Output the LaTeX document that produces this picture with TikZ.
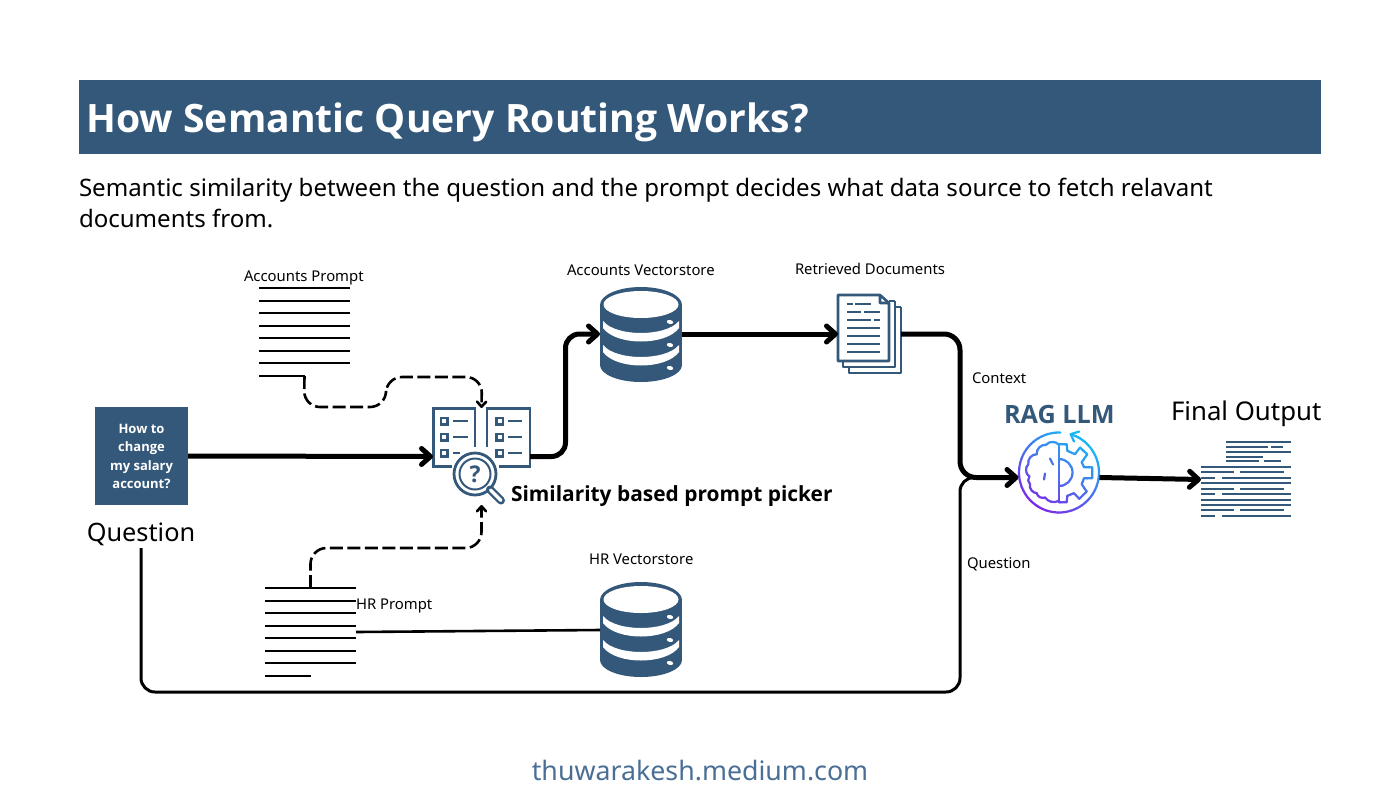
\documentclass[tikz,border=0pt]{standalone}
\usepackage{fontspec}
\setmainfont{Noto Sans}
\newfontfamily\opensans{Open Sans}
\usetikzlibrary{arrows.meta,calc}
\definecolor{navy}{HTML}{34587A}
\definecolor{webblue}{HTML}{4A6F94}
\definecolor{gradA}{HTML}{14BDF7}
\definecolor{gradB}{HTML}{7D28E6}
\newcommand{\fs}[1]{\fontsize{#1}{#1}\selectfont}
\tikzset{
  x=1pt,y=-1pt,
  lbl/.style={inner sep=0pt,outer sep=0pt,anchor=base west,font=\fs{14.85}},
  mainarrow/.style={line width=5pt,-{Straight Barb[length=9pt,width=16pt,line cap=round,round]}},
  dasharrow/.style={line width=2.6pt,dash pattern=on 13pt off 4.5pt,-{Straight Barb[length=5pt,width=9pt,round]}},
  promptline/.style={line width=2pt,black},
  iconline/.style={navy,line width=2.6pt},
  outline/.style={navy,line width=1.6pt},
}
\newcommand{\dbstack}[2]{%
  \begin{scope}[shift={(#1,#2)}]
    \fill[navy] (0,0) ellipse[x radius=41,y radius=18];
    \fill[navy] (-41,0) rectangle (41,60);
    \fill[navy] (0,60) ellipse[x radius=41,y radius=17];
    \fill[white] (0,-0.5) ellipse[x radius=37.5,y radius=13.5];
    \foreach \d in {0,24}{
      \fill[white] (-38,16+\d) .. controls (-25,32+\d) and (25,32+\d) .. (38,16+\d)
        -- (38,23+\d) .. controls (25,41+\d) and (-25,41+\d) .. (-38,23+\d) -- cycle;
    }
    \foreach \d in {17,40,63}{
      \fill[white,rotate around={-12:(29,\d)}] (29,\d) ellipse[x radius=3.2,y radius=2];
    }
  \end{scope}}
\newcommand{\promptlines}[4]{% x0, x1, y0, short x
  \foreach \i in {0,...,6}{\draw[promptline] (#1,#3+12.57*\i) -- (#2,#3+12.57*\i);}
  \draw[promptline] (#1,#3+88) -- (#4,#3+88);}
\newcommand{\llmshapes}{%
  \draw (88:40) arc[start angle=88,end angle=433,radius=40];
  \draw[line join=round] (20.3,41) -- (11.7,38.3) -- (15,31);
  \draw (0,28.3) -- (0,-29.7);
  \draw[line join=round] (0,28.3) -- (7.7,28.3) -- (8.3,21.7) -- (16,18.3) -- (21,25) -- (28.3,18.3) -- (22.7,10.3) -- (25,5.3) -- (33.3,5.3) -- (33.3,-5.7) -- (25,-5.7) -- (22.7,-11.7) -- (27.7,-19) -- (20.3,-26.3) -- (15,-20.7) -- (8.3,-23.3) -- (7.7,-29.7) -- (0,-29.7);
  \draw (0,13.5) arc[start angle=90,end angle=-90,radius=13.5];
  \draw (0,27.7) to[bend right=50] (-13,27.7) to[bend right=50] (-22.3,18.3) to[bend right=50] (-30.7,8.3) to[bend right=50] (-29.7,-4) to[bend right=40] (-29,-11.7) to[bend right=50] (-22.3,-20.7) to[bend right=50] (-14,-25) to[bend right=40] (0,-28.3);
  \draw (-9,14) -- (-6,8);
  \draw (-14,-1) -- (-15,-7);
}
\begin{document}
\begin{tikzpicture}
\useasboundingbox (0,0) rectangle (1400,788);
\fill[white] (0,0) rectangle (1400,788);

% header
\node[fill=navy,minimum width=1242pt,minimum height=74pt,inner sep=0pt,anchor=north west] (bar) at (79,80) {};
\node[lbl,text=white,font=\opensans\bfseries\fs{39.1}] (title) at (86.5,132) {How Semantic Query Routing Works?};
\node[lbl,font=\fs{24.05}] (sub1) at (79,196) {Semantic similarity between the question and the prompt decides what data source to fetch relavant};
\node[lbl,font=\fs{24.05}] (sub2) at (79,227) {documents from.};

% question box
\node[fill=navy,minimum width=93pt,minimum height=98pt,inner sep=0pt] (qbox) at (141.5,456) {};
\foreach \t/\yy/\nm in {How to/433/qa,change/451/qb,my salary/470/qc,account?/488/qd}{
  \node[inner sep=0pt,anchor=base,text=white,font=\opensans\bfseries\fs{13}] (\nm) at (141.5,\yy) {\t};
}
\node[inner sep=0pt,outer sep=0pt,anchor=base,font=\fs{25.3},text depth=7pt] (qlabel) at (141,541) {Question};

% anchors
\node[minimum width=91pt,minimum height=88pt,inner sep=0pt,outer sep=0pt] (acctprompt) at (304.5,332) {};
\node[minimum width=91pt,minimum height=88pt,inner sep=0pt,outer sep=0pt] (hrprompt) at (310.5,632) {};
\node[minimum width=97pt,minimum height=97pt,inner sep=0pt,outer sep=0pt] (picker) at (481.5,456.5) {};
\node[minimum width=82pt,minimum height=95pt,inner sep=0pt,outer sep=0pt] (acctdb) at (641,334) {};
\node[minimum width=82pt,minimum height=95pt,inner sep=0pt,outer sep=0pt] (hrdb) at (641,630) {};
\node[minimum width=63pt,minimum height=78pt,inner sep=0pt,outer sep=0pt] (docs) at (869.5,334) {};
\node[minimum width=81pt,minimum height=81pt,inner sep=0pt,outer sep=0pt] (llm) at (1059,477.5) {};
\node[minimum width=90pt,minimum height=76pt,inner sep=0pt,outer sep=0pt] (output) at (1246,479.5) {};
\coordinate (join) at (976,477.5);

% prompts
\promptlines{259}{350}{288}{304.5}
\promptlines{265}{356}{588}{311}

% databases
\dbstack{641}{305}
\dbstack{641}{600}

% picker icon
\begin{scope}[iconline,line join=miter]
  \draw (475,447) -- (475,408.5) -- (433.5,408.5) -- (433.5,466.5) -- (452,466.5);
  \draw (487,447) -- (487,408.5) -- (530,408.5) -- (530,466.5) -- (499,466.5);
  \foreach \yy in {421,437,453}{
    \draw (441,\yy-3) rectangle +(6.5,6.5);
    \draw (496.5,\yy-3) rectangle +(6.5,6.5);
    \draw (508,\yy) -- (522,\yy);
  }
  \draw (453,421) -- (468,421);
  \draw (453,437) -- (468,437);
  \draw (453,453) -- (460,453);
  \draw[line width=2.8pt] (475,474) circle[radius=21];
  \draw[line width=2pt] (475,474) circle[radius=15.5];
  \draw[line width=8pt,line cap=round] (490,489.5) -- (501,500.5);
  \draw[white,line width=3.2pt,line cap=round] (490.5,490) -- (501,500.5);
\end{scope}
\node[inner sep=0pt,text=navy,font=\opensans\bfseries\fs{23}] (qmark) at (475,474) {?};

% documents icon
\begin{scope}[iconline,line join=round]
  \draw (895,301) -- (895,367) -- (843,367) -- (843,361);
  \draw (889,301) -- (895,301);
  \draw (901,307) -- (901,373) -- (849,373) -- (849,367);
  \draw (895,307) -- (901,307);
  \draw (880,295) -- (838,295) -- (838,361) -- (889,361) -- (889,303) -- (880,295) -- (880,303) -- (889,303);
  \draw (847,304) -- (853,304) (855,304) -- (871,304);
  \draw (847,312) -- (861,312) (864,312) -- (880,312);
  \draw (847,320) -- (871,320) (874,320) -- (880,320);
  \foreach \yy in {328,336,344,352}{\draw (847,\yy) -- (880,\yy);}
\end{scope}

% LLM icon with a banded gradient
\begin{scope}[shift={(1059,472.5)},y=1pt,line width=2.2pt]
  \foreach \s in {0,...,17}{
    \pgfmathtruncatemacro{\p}{100*\s/17}
    \begin{scope}[rotate=-35]
      \clip (-60,{46-5*\s}) rectangle (60,{46-5*\s-5.4});
      \begin{scope}[rotate=35,draw={gradB!\p!gradA},line cap=round]
        \llmshapes
      \end{scope}
    \end{scope}
  }
\end{scope}

% output text
\begin{scope}[outline]
  \foreach \yy/\a/\b in {442/1226/1291,447/1226/1268,447/1271/1283,452/1226/1291,457/1226/1263,461/1226/1259,461/1264/1281,
    467/1201/1291,472/1201/1234,472/1240/1284,478/1201/1215,478/1222/1291,483/1201/1291,489/1201/1234,489/1240/1284,
    494/1201/1215,494/1222/1291,500/1201/1291,505/1201/1291,510/1201/1234,510/1240/1284,516/1201/1215,516/1222/1291}{
    \draw (\a,\yy) -- (\b,\yy);
  }
\end{scope}

% labels
\node[lbl] (lacct) at (244,281) {Accounts Prompt};
\node[lbl] (lhr) at (356,609) {HR Prompt};
\node[lbl] (lacctdb) at (567,275) {Accounts Vectorstore};
\node[lbl] (lhrdb) at (589,564) {HR Vectorstore};
\node[lbl] (ldocs) at (795,274) {Retrieved Documents};
\node[lbl] (lctx) at (972,383) {Context};
\node[lbl] (lq2) at (967,568) {Question};
\node[lbl,font=\opensans\bfseries\fs{20.9}] (lpick) at (511,501) {Similarity based prompt picker};
\node[lbl,text=navy,font=\opensans\bfseries\fs{25.2}] (lrag) at (1004,423) {RAG LLM};
\node[lbl,font=\fs{25.8}] (lfinal) at (1171,420.5) {Final Output};
\node[inner sep=0pt,anchor=base,text=webblue,font=\fs{26.75}] (site) at (700,780) {thuwarakesh.medium.com};

% connectors
\draw[mainarrow] (qbox.east) -- (picker.west);
\draw[mainarrow,rounded corners=14pt] (picker.east) -- (565.5,456.5) -- (565.5,334) -- (acctdb.west);
\draw[mainarrow] (acctdb.east) -- (docs.west);
\draw[mainarrow,rounded corners=16pt] (docs.east) -- (960,334) -- (960,477.5) -- (llm.west);
\draw[mainarrow] (llm.east) -- (output.west);
\draw[line width=3pt,rounded corners=14pt] (qlabel.south) -- (141,692) -- (960,692) -- (960,477.5) -- (join);
\draw[line width=2.6pt] (hrprompt.east) -- (hrdb.west);
\draw[dasharrow,rounded corners=16pt] (acctprompt.south) -- (304,407) -- (386,407) -- (386,377) -- (482,377) -- (picker.north);
\draw[dasharrow,rounded corners=16pt] (hrprompt.north) -- (310.5,548) -- (481.5,548) -- (picker.south);
\end{tikzpicture}
\end{document}
